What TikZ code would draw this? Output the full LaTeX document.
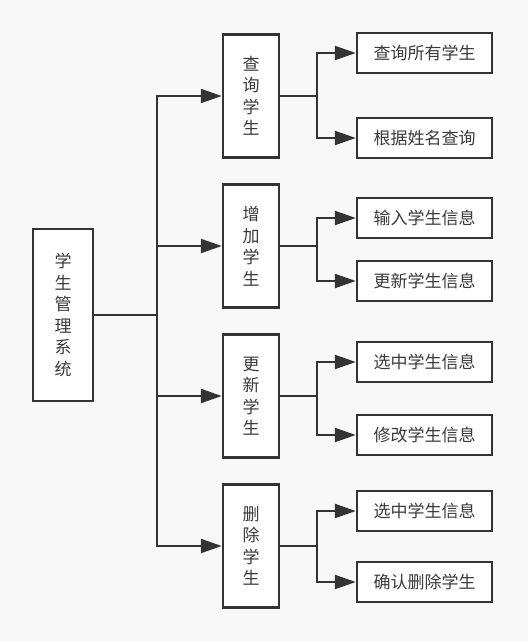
\documentclass[tikz,border=0pt]{standalone}
\usepackage{fontspec}
\newfontfamily\cjk{Noto Sans CJK SC}
\usetikzlibrary{arrows.meta}
\definecolor{bg}{HTML}{F8F8F8}
\definecolor{ln}{HTML}{333333}
\definecolor{tx}{HTML}{3A3A3A}
\begin{document}
\begin{tikzpicture}[x=1pt,y=-1pt,
  box/.style={draw=ln, line width=2.4pt, fill=white, inner sep=0pt, text=tx,
    font=\cjk\fontsize{17}{21.5}\selectfont, align=center},
  rootbox/.style={box, minimum width=60pt, minimum height=172pt},
  midbox/.style={box, minimum width=56pt, minimum height=123pt},
  leafbox/.style={box, minimum width=135pt, minimum height=40pt},
  conn/.style={draw=ln, line width=2.2pt},
  arr/.style={conn, -{Triangle[length=21pt,width=14pt]}}
]
\fill[bg] (0,0) rectangle (528,641);
\useasboundingbox (0,0) rectangle (528,641);

\node[rootbox] (root) at (63,315) {学\\生\\管\\理\\系\\统};

\node[midbox] (a1) at (251,96) {查\\询\\学\\生};
\node[midbox] (a2) at (251,246) {增\\加\\学\\生};
\node[midbox] (a3) at (251,396) {更\\新\\学\\生};
\node[midbox] (a4) at (251,546) {删\\除\\学\\生};

\node[leafbox] (b1) at (424.5,53) {查询所有学生};
\node[leafbox] (b2) at (424.5,138) {根据姓名查询};
\node[leafbox] (b3) at (424.5,218) {输入学生信息};
\node[leafbox] (b4) at (424.5,281) {更新学生信息};
\node[leafbox] (b5) at (424.5,362) {选中学生信息};
\node[leafbox] (b6) at (424.5,435) {修改学生信息};
\node[leafbox] (b7) at (424.5,511) {选中学生信息};
\node[leafbox] (b8) at (424.5,582) {确认删除学生};

\coordinate (t) at (157,315);
\coordinate (s1) at (317,96);
\coordinate (s2) at (317,246);
\coordinate (s3) at (317,396);
\coordinate (s4) at (317,546);

\draw[conn] (root.east) -- (t);
\draw[arr] (t) |- (a1.west);
\draw[arr] (t) |- (a2.west);
\draw[arr] (t) |- (a3.west);
\draw[arr] (t) |- (a4.west);

\draw[conn] (a1.east) -- (s1);
\draw[conn] (a2.east) -- (s2);
\draw[conn] (a3.east) -- (s3);
\draw[conn] (a4.east) -- (s4);

\draw[arr] (s1) |- (b1.west);
\draw[arr] (s1) |- (b2.west);
\draw[arr] (s2) |- (b3.west);
\draw[arr] (s2) |- (b4.west);
\draw[arr] (s3) |- (b5.west);
\draw[arr] (s3) |- (b6.west);
\draw[arr] (s4) |- (b7.west);
\draw[arr] (s4) |- (b8.west);
\end{tikzpicture}
\end{document}
